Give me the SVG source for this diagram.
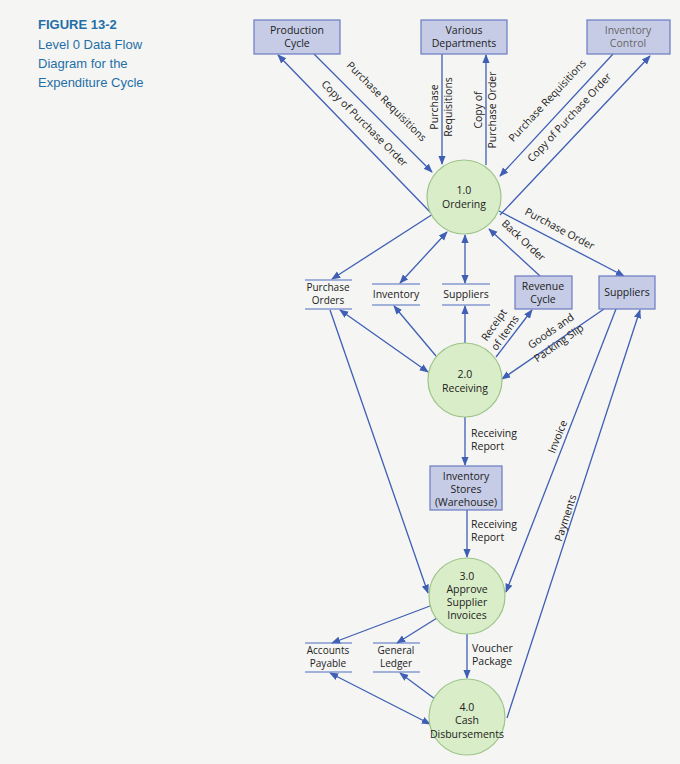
<svg xmlns="http://www.w3.org/2000/svg" width="680" height="764" viewBox="0 0 680 764">
<defs>
<marker id="a" viewBox="0 0 10 10" refX="9" refY="5" markerWidth="7" markerHeight="7" orient="auto-start-reverse"><path d="M0,1 L10,5 L0,9 z" fill="#3f5fb5"/></marker>
<style>
text{font-family:"Open Sans","Liberation Sans",sans-serif;font-size:10.5px;fill:#222}
.c{text-anchor:middle}
.s{font-size:10px}
.box{fill:#c6cce6;stroke:#6b7bc2;stroke-width:1.2}
.bub{fill:#d9edc8;stroke:#9cc589;stroke-width:1.2}
.st{stroke:#4f6fc0;stroke-width:1.2}
.ln{stroke:#3f5fb5;stroke-width:1.3;fill:none;marker-end:url(#a)}
.bi{marker-start:url(#a)}
.cap{font-family:"Liberation Sans",Arial,sans-serif;fill:#1f6fa8;font-size:13px}
</style>
</defs>
<rect width="680" height="764" fill="#f5f5f3"/>
<g id="caption">
<text class="cap" x="38" y="29" font-weight="bold">FIGURE 13-2</text>
<text class="cap" x="38" y="49">Level 0 Data Flow</text>
<text class="cap" x="38" y="68">Diagram for the</text>
<text class="cap" x="38" y="87">Expenditure Cycle</text>
</g>
<g id="connectors">
<line class="ln" x1="314" y1="54" x2="432" y2="172"/>
<line class="ln" x1="431" y1="213" x2="278" y2="55"/>
<line class="ln" x1="442" y1="54" x2="442" y2="164"/>
<line class="ln" x1="486" y1="165" x2="486" y2="55"/>
<line class="ln" x1="613" y1="54" x2="500" y2="176"/>
<line class="ln" x1="500" y1="215" x2="650" y2="56"/>
<line class="ln" x1="499" y1="211" x2="624" y2="276"/>
<line class="ln" x1="540" y1="276" x2="489" y2="229"/>
<line class="ln" x1="433" y1="214" x2="332" y2="279"/>
<line class="ln bi" x1="400" y1="283" x2="447" y2="232"/>
<line class="ln bi" x1="465" y1="283" x2="465" y2="235"/>
<line class="ln" x1="436" y1="356" x2="394" y2="306"/>
<line class="ln" x1="465" y1="343" x2="465" y2="306"/>
<line class="ln bi" x1="340" y1="310" x2="428" y2="372"/>
<line class="ln" x1="496" y1="357" x2="532" y2="310"/>
<line class="ln" x1="604" y1="309" x2="502" y2="379"/>
<line class="ln" x1="465" y1="417" x2="465" y2="465"/>
<line class="ln" x1="467" y1="510" x2="467" y2="557"/>
<line class="ln" x1="330" y1="310" x2="428" y2="593"/>
<line class="ln" x1="616" y1="309" x2="506" y2="592"/>
<line class="ln" x1="430" y1="606" x2="332" y2="643"/>
<line class="ln" x1="437" y1="618" x2="397" y2="643"/>
<line class="ln" x1="467" y1="634" x2="467" y2="678"/>
<line class="ln" x1="435" y1="699" x2="400" y2="673"/>
<line class="ln bi" x1="330" y1="673" x2="430" y2="724"/>
<line class="ln" x1="507" y1="718" x2="640" y2="310"/>
<text class="c" transform="translate(384,104) rotate(45)">Purchase Requisitions</text>
<text class="c" transform="translate(362,126) rotate(45)">Copy of Purchase Order</text>
<text class="c" transform="translate(438,107) rotate(-90)">Purchase</text>
<text class="c" transform="translate(452,107) rotate(-90)">Requisitions</text>
<text class="c" transform="translate(482,110) rotate(-90)">Copy of</text>
<text class="c" transform="translate(496,110) rotate(-90)">Purchase Order</text>
<text class="c" transform="translate(550,103) rotate(-47)">Purchase Requisitions</text>
<text class="c" transform="translate(572,120) rotate(-47)">Copy of Purchase Order</text>
<text class="c" transform="translate(558,232) rotate(28)">Purchase Order</text>
<text class="c" transform="translate(521,243) rotate(43)">Back Order</text>
<text class="c" transform="translate(497,327) rotate(-55)">Receipt</text>
<text class="c" transform="translate(508,335) rotate(-55)">of Items</text>
<text class="c" transform="translate(553,334) rotate(-35)">Goods and</text>
<text class="c" transform="translate(561,346) rotate(-35)">Packing Slip</text>
<text x="471" y="437">Receiving</text>
<text x="471" y="450">Report</text>
<text x="471" y="528">Receiving</text>
<text x="471" y="541">Report</text>
<text class="c" transform="translate(561,438) rotate(-68)">Invoice</text>
<text class="c" transform="translate(569,519) rotate(-72)">Payments</text>
<text x="472" y="652">Voucher</text>
<text x="472" y="665">Package</text>
</g>
<g id="production-cycle"><rect class="box" x="254" y="20" width="86" height="34"/><text class="c" x="297" y="34">Production</text><text class="c" x="297" y="47">Cycle</text></g>
<g id="various-departments"><rect class="box" x="421" y="20" width="86" height="34"/><text class="c" x="464" y="34">Various</text><text class="c" x="464" y="47">Departments</text></g>
<g id="inventory-control"><rect class="box" x="587" y="20" width="83" height="34"/><text class="c" x="628" y="34" style="fill:#666">Inventory</text><text class="c" x="628" y="47" style="fill:#666">Control</text></g>
<g id="p1"><circle class="bub" cx="464" cy="197" r="37"/><text class="c" x="464" y="194">1.0</text><text class="c" x="464" y="208">Ordering</text></g>
<g id="purchase-orders"><line class="st" x1="305" y1="280" x2="352" y2="280"/><line class="st" x1="305" y1="309" x2="352" y2="309"/><text class="c s" x="328" y="291">Purchase</text><text class="c s" x="328" y="304">Orders</text></g>
<g id="inventory"><line class="st" x1="372" y1="284" x2="420" y2="284"/><line class="st" x1="372" y1="305" x2="420" y2="305"/><text class="c" x="396" y="298">Inventory</text></g>
<g id="suppliers-store"><line class="st" x1="442" y1="284" x2="490" y2="284"/><line class="st" x1="442" y1="305" x2="490" y2="305"/><text class="c" x="466" y="298">Suppliers</text></g>
<g id="revenue-cycle"><rect class="box" x="515" y="276" width="57" height="33"/><text class="c" x="543" y="290">Revenue</text><text class="c" x="543" y="303">Cycle</text></g>
<g id="suppliers"><rect class="box" x="599" y="276" width="56" height="33"/><text class="c" x="627" y="296">Suppliers</text></g>
<g id="p2"><circle class="bub" cx="465" cy="380" r="37"/><text class="c" x="465" y="378">2.0</text><text class="c" x="465" y="392">Receiving</text></g>
<g id="inventory-stores"><rect class="box" x="430" y="466" width="72" height="44"/><text class="c" x="466" y="480">Inventory</text><text class="c" x="466" y="493">Stores</text><text class="c" x="466" y="506">(Warehouse)</text></g>
<g id="p3"><circle class="bub" cx="467" cy="596" r="38"/><text class="c" x="467" y="580">3.0</text><text class="c" x="467" y="593">Approve</text><text class="c" x="467" y="606">Supplier</text><text class="c" x="467" y="619">Invoices</text></g>
<g id="accounts-payable"><line class="st" x1="305" y1="643" x2="352" y2="643"/><line class="st" x1="305" y1="672" x2="352" y2="672"/><text class="c s" x="328" y="654">Accounts</text><text class="c s" x="328" y="667">Payable</text></g>
<g id="general-ledger"><line class="st" x1="373" y1="643" x2="420" y2="643"/><line class="st" x1="373" y1="672" x2="420" y2="672"/><text class="c s" x="396" y="654">General</text><text class="c s" x="396" y="667">Ledger</text></g>
<g id="p4"><circle class="bub" cx="467" cy="717" r="38"/><text class="c" x="467" y="711">4.0</text><text class="c" x="467" y="724">Cash</text><text class="c" x="467" y="738">Disbursements</text></g>
</svg>
